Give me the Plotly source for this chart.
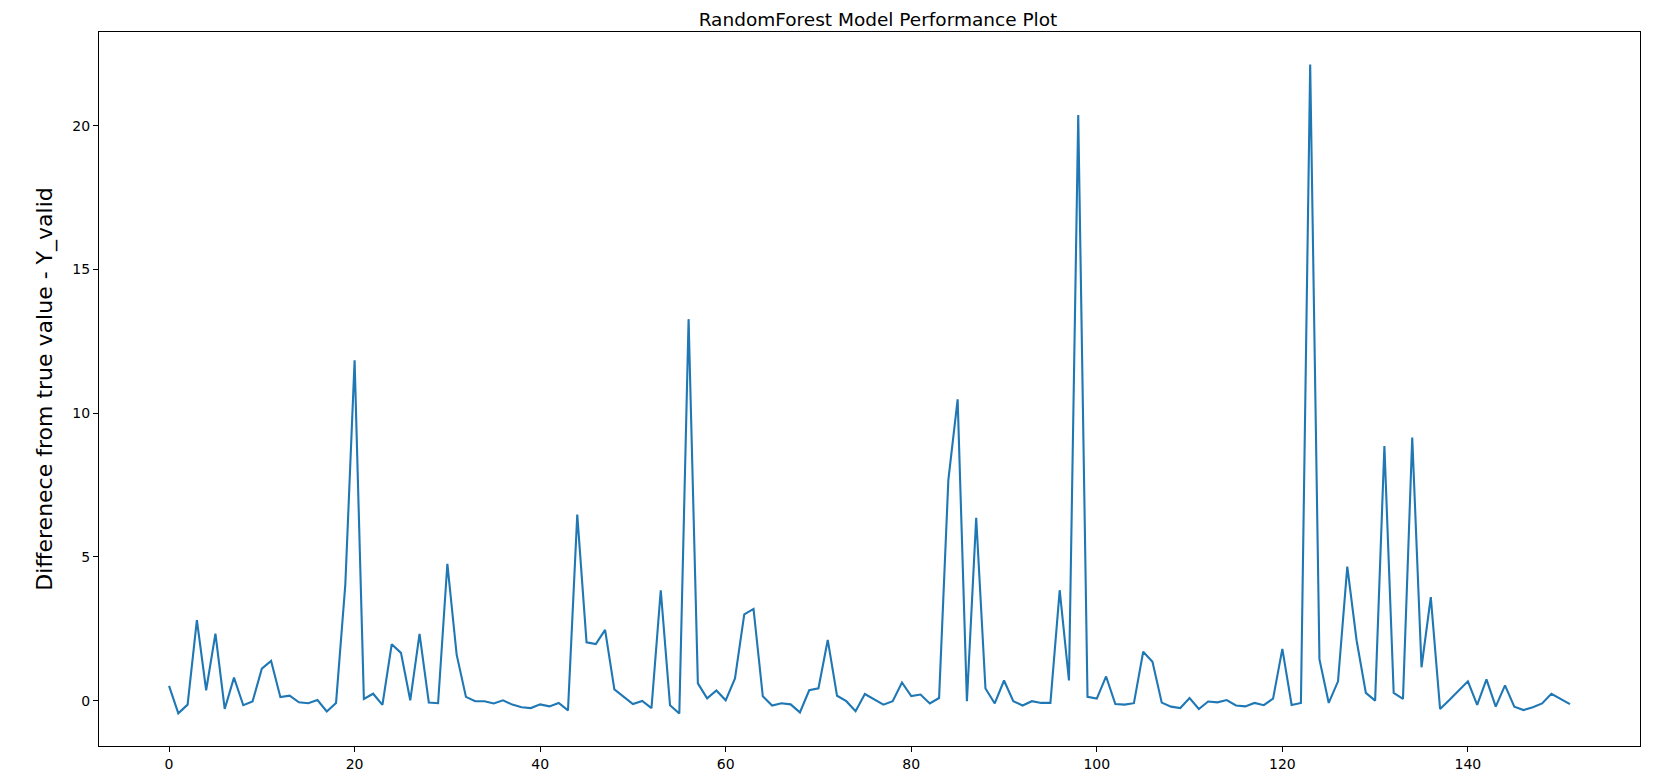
import plotly.graph_objects as go

# residuals of the RandomForest model on the validation set
sample_index = list(range(152))

diff_0_49 = [
    0.51, -0.44, -0.14, 2.80, 0.36, 2.33, -0.29, 0.80, -0.16, -0.03,
    1.11, 1.38, 0.12, 0.17, -0.06, -0.09, 0.02, -0.38, -0.08, 4.04,
    11.84, 0.06, 0.24, -0.15, 1.96, 1.66, 0.01, 2.32, -0.07, -0.09,
    4.76, 1.60, 0.13, -0.02, -0.02, -0.10, 0.01, -0.14, -0.23, -0.26,
    -0.13, -0.20, -0.08, -0.34, 6.47, 2.03, 1.97, 2.46, 0.39, 0.12,
]
diff_50_99 = [
    -0.12, -0.01, -0.26, 3.84, -0.16, -0.45, 13.27, 0.60, 0.08, 0.35,
    0.01, 0.77, 3.00, 3.19, 0.15, -0.17, -0.09, -0.13, -0.41, 0.36,
    0.43, 2.11, 0.17, -0.02, -0.37, 0.23, 0.05, -0.14, -0.02, 0.63,
    0.16, 0.21, -0.10, 0.09, 7.68, 10.48, -0.02, 6.36, 0.42, -0.10,
    0.70, -0.02, -0.17, -0.02, -0.08, -0.08, 3.84, 0.70, 20.37, 0.13,
]
diff_100_151 = [
    0.07, 0.84, -0.12, -0.14, -0.09, 1.70, 1.35, -0.07, -0.21, -0.26,
    0.09, -0.29, -0.03, -0.06, 0.02, -0.17, -0.20, -0.08, -0.16, 0.07,
    1.80, -0.15, -0.08, 22.13, 1.43, -0.08, 0.67, 4.66, 2.10, 0.27,
    0.00, 8.86, 0.27, 0.06, 9.15, 1.16, 3.60, -0.29, 0.02, 0.33,
    0.67, -0.15, 0.74, -0.21, 0.53, -0.21, -0.33, -0.23, -0.10, 0.24,
    0.07, -0.12,
]
difference = diff_0_49 + diff_50_99 + diff_100_151

x_ticks = [0, 20, 40, 60, 80, 100, 120, 140]
y_ticks = [0, 5, 10, 15, 20]

FONT = "DejaVu Sans"
W, H = 1654, 777


def build_figure():
    fig = go.Figure()
    fig.add_trace(go.Scatter(
        x=sample_index,
        y=difference,
        mode="lines",
        line=dict(color="#1f77b4", width=2.1),
        showlegend=False,
    ))

    # matplotlib-like 5% padding around the data
    x_pad = 0.05 * (max(sample_index) - min(sample_index))
    y_pad = 0.05 * (max(difference) - min(difference))

    axis_style = dict(
        showline=True, linecolor="#000000", linewidth=1, mirror=True,
        showgrid=False, zeroline=False,
        ticks="outside", ticklen=5, tickwidth=1, tickcolor="#000000",
        tickfont=dict(family=FONT, size=14, color="#000000"),
    )

    fig.update_xaxes(
        range=[min(sample_index) - x_pad, max(sample_index) + x_pad],
        tickvals=x_ticks,
        **axis_style,
    )
    fig.update_yaxes(
        range=[min(difference) - y_pad, max(difference) + y_pad],
        tickvals=y_ticks,
        title=dict(text="Differenece from true value - Y_valid",
                   font=dict(family=FONT, size=22, color="#000000"),
                   standoff=13),
        **axis_style,
    )

    fig.update_layout(
        width=W,
        height=H,
        paper_bgcolor="white",
        plot_bgcolor="white",
        margin=dict(l=91, r=22, t=24, b=39),
        title=dict(text="RandomForest Model Performance Plot",
                   font=dict(family=FONT, size=18.5, color="#000000"),
                   x=870 / W, xanchor="center",
                   y=1 - 12 / H, yanchor="middle"),
    )
    return fig


def main():
    fig = build_figure()
    fig.write_html("out.html")


if __name__ == "__main__":
    main()
